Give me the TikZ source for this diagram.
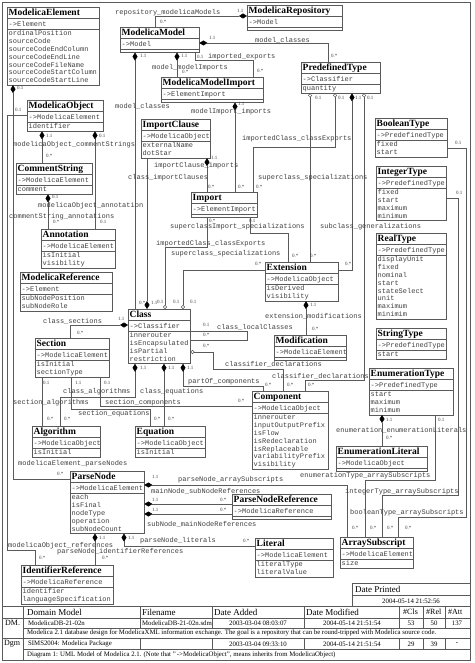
\documentclass[tikz,border=0pt]{standalone}
\usepackage{fontspec}
\setmainfont{Liberation Serif}
\setmonofont{Liberation Mono}
\usetikzlibrary{arrows.meta, shapes.multipart}

\definecolor{linec}{HTML}{5A5A5A}
\definecolor{attrc}{HTML}{404040}

% struts for the three compartments
\newcommand\nstrut{\rule[-2.5pt]{0pt}{10pt}}
\newcommand\sstrut{\rule[-2.2pt]{0pt}{9pt}}
\newcommand\astrut{\rule[-1.6pt]{0pt}{7.8pt}}
\newcommand\cname[1]{\nstrut{\fontsize{9.5}{10}\selectfont\rmfamily\bfseries\color{black}#1}}
\newcommand\noattr{\rule{0pt}{2pt}}

\tikzset{
  cls/.style={draw=linec, rectangle split, rectangle split parts=3, anchor=north west,
    inner xsep=1.5pt, inner ysep=0.5pt, align=left, text=attrc,
    font=\fontsize{7}{7.8}\selectfont\ttfamily},
  assoc/.style={draw=linec, line width=0.5pt},
  comp/.style={assoc, {Diamond[length=8pt,width=5pt,color=black]}-},
  circ/.style={assoc, {Circle[open,length=4pt]}-},
  lbl/.style={anchor=west, inner sep=0pt, text=attrc, font=\fontsize{7}{7}\selectfont\ttfamily},
  mult/.style={anchor=west, inner sep=0pt, text=attrc, font=\fontsize{5}{5}\selectfont},
  th/.style={anchor=west, inner sep=0pt, font=\fontsize{9}{9}\selectfont},
  td/.style={anchor=west, inner sep=0pt, font=\fontsize{6.8}{7}\selectfont},
}

\begin{document}
\lineskiplimit=-10pt
\lineskip=0pt
\begin{tikzpicture}[x=1pt, y=-1pt]
\useasboundingbox (0,0) rectangle (474,663);

% classes
\node[cls, text width=89pt] (elem) at (7,7) {\cname{ModelicaElement}
  \nodepart{two}\sstrut->Element
  \nodepart{three}\astrut ordinalPosition\\ sourceCode\\ sourceCodeEndColumn\\ sourceCodeEndLine\\
  sourceCodeFileName\\ sourceCodeStartColumn\\ \astrut sourceCodeStartLine};
\node[cls, text width=92pt] (repo) at (247,5) {\cname{ModelicaRepository}
  \nodepart{two}\sstrut->Model \nodepart{three}\noattr};
\node[cls, text width=76pt] (model) at (120,27) {\cname{ModelicaModel}
  \nodepart{two}\sstrut->Model \nodepart{three}\noattr};
\node[cls, text width=99pt] (mimport) at (161,77) {\cname{ModelicaModelImport}
  \nodepart{two}\sstrut->ElementImport \nodepart{three}\noattr};
\node[cls, text width=76pt] (predef) at (301,62) {\cname{PredefinedType}
  \nodepart{two}\sstrut->Classifier \nodepart{three}\astrut quantity};
\node[cls, text width=73pt] (mobj) at (27,100) {\cname{ModelicaObject}
  \nodepart{two}\sstrut->ModelicaElement \nodepart{three}\astrut identifier};
\node[cls, text width=66pt] (iclause) at (141,119) {\cname{ImportClause}
  \nodepart{two}\sstrut->ModelicaObject \nodepart{three}\astrut externalName\\ \astrut dotStar};
\node[cls, text width=73pt] (cstring) at (16,163) {\cname{CommentString}
  \nodepart{two}\sstrut->ModelicaElement \nodepart{three}\astrut comment};
\node[cls, text width=69pt] (booltype) at (375,118) {\cname{BooleanType}
  \nodepart{two}\sstrut->PredefinedType \nodepart{three}\astrut fixed\\ \astrut start};
\node[cls, text width=67pt] (inttype) at (376,166) {\cname{IntegerType}
  \nodepart{two}\sstrut->PredefinedType \nodepart{three}\astrut fixed\\ start\\ maximum\\ \astrut minimum};
\node[cls, text width=63pt] (import) at (191,192) {\cname{Import}
  \nodepart{two}\sstrut->ElementImport \nodepart{three}\noattr};
\node[cls, text width=71pt] (annot) at (41,229) {\cname{Annotation}
  \nodepart{two}\sstrut->ModelicaElement \nodepart{three}\astrut isInitial\\ \astrut visibility};
\node[cls, text width=67pt] (realtype) at (376,233) {\cname{RealType}
  \nodepart{two}\sstrut->PredefinedType \nodepart{three}\astrut displayUnit\\ fixed\\ nominal\\ start\\
  stateSelect\\ unit\\ maximum\\ \astrut minimim};
\node[cls, text width=70pt] (ext) at (265,262) {\cname{Extension}
  \nodepart{two}\sstrut->ModelicaObject \nodepart{three}\astrut isDerived\\ \astrut visibility};
\node[cls, text width=89pt] (mref) at (20,272) {\cname{ModelicaReference}
  \nodepart{two}\sstrut->Element \nodepart{three}\astrut subNodePosition\\ \astrut subNodeRole};
\node[cls, text width=59pt] (cls) at (128,309) {\cname{Class}
  \nodepart{two}\sstrut->Classifier \nodepart{three}\astrut innerouter\\ isEncapsulated\\ isPartial\\ \astrut restriction};
\node[cls, text width=67pt] (strtype) at (376,328) {\cname{StringType}
  \nodepart{two}\sstrut->PredefinedType \nodepart{three}\astrut start};
\node[cls, text width=69pt] (modif) at (274,335) {\cname{Modification}
  \nodepart{two}\sstrut->ModelicaElement \nodepart{three}\noattr};
\node[cls, text width=71pt] (sect) at (35,338) {\cname{Section}
  \nodepart{two}\sstrut->ModelicaElement \nodepart{three}\astrut isInitial\\ \astrut sectionType};
\node[cls, text width=81pt] (enumtype) at (369,368) {\cname{EnumerationType}
  \nodepart{two}\sstrut->PredefinedType \nodepart{three}\astrut start\\ maximum\\ \astrut minimum};
\node[cls, text width=73pt] (comp) at (252,391) {\cname{Component}
  \nodepart{two}\sstrut->ModelicaObject \nodepart{three}\astrut innerouter\\ inputOutputPrefix\\ isFlow\\
  isRedeclaration\\ isReplaceable\\ variabilityPrefix\\ \astrut visibility};
\node[cls, text width=65pt] (algo) at (32,426) {\cname{Algorithm}
  \nodepart{two}\sstrut->ModelicaObject \nodepart{three}\astrut isInitial};
\node[cls, text width=67pt] (eqn) at (135,426) {\cname{Equation}
  \nodepart{two}\sstrut->ModelicaObject \nodepart{three}\astrut isInitial};
\node[cls, text width=88pt] (enumlit) at (336,446) {\cname{EnumerationLiteral}
  \nodepart{two}\sstrut->ModelicaObject \nodepart{three}\noattr};
\node[cls, text width=71pt] (pnode) at (70,471) {\cname{ParseNode}
  \nodepart{two}\sstrut->ModelicaElement \nodepart{three}\astrut each\\ isFinal\\ nodeType\\ operation\\ \astrut subNodeCount};
\node[cls, text width=96pt] (pnref) at (232,494) {\cname{ParseNodeReference}
  \nodepart{two}\sstrut->ModelicaReference \nodepart{three}\noattr};
\node[cls, text width=70pt] (arrsub) at (340,537) {\cname{ArraySubscript}
  \nodepart{two}\sstrut->ModelicaElement \nodepart{three}\astrut size};
\node[cls, text width=75pt] (literal) at (255,538) {\cname{Literal}
  \nodepart{two}\sstrut->ModelicaElement \nodepart{three}\astrut literalType\\ \astrut literalValue};
\node[cls, text width=89pt] (idref) at (21,565) {\cname{IdentifierReference}
  \nodepart{two}\sstrut->ModelicaReference \nodepart{three}\astrut identifier\\ \astrut languageSpecification};

% associations
\draw[comp] (repo.west |- 0,16) -- (155,16) -- (model.north -| 155,0);
\draw[comp] (model.east |- 0,43) -- (328,43) -- (predef.north -| 328,0);
\draw[assoc] (model.south -| 195,0) -- (195,60) -- (253,60) -- (mimport.north -| 253,0);
\draw[comp] (model.south -| 177,0) -- (mimport.north -| 177,0);
\draw[comp] (model.south -| 135,0) -- (cls.north -| 135,0);
\draw[comp] (mimport.south -| 235,0) -- (import.north -| 235,0);
\draw[comp] (cls.north -| 147,0) -- (iclause.south -| 147,0);
\draw[comp] (iclause.south -| 207,0) -- (import.north -| 207,0);
\draw[circ] (predef.south -| 335,0) -- (335,147) -- (253,147) -- (import.north -| 253,0);
\draw[circ] (predef.south -| 310,0) -- (ext.north -| 310,0);
\draw[comp] (predef.south -| 352,0) -- (352,270) -- (ext.east |- 0,270);
\draw[circ] (predef.south -| 364,0) -- (364,380) -- (305,380) -- (comp.north -| 305,0);
\draw[assoc] (import.south -| 250,0) -- (250,233) -- (288,233) -- (ext.north -| 288,0);
\draw[circ] (cls.north -| 165,0) -- (165,247) -- (207,247) -- (import.south -| 207,0);
\draw[circ] (cls.north -| 183,0) -- (183,270) -- (ext.west |- 0,270);
\draw[comp] (ext.south -| 306,0) -- (modif.north -| 306,0);
\draw[comp] (cls.west |- 0,325) -- (70,325) -- (sect.north -| 70,0);
\draw[assoc] (cls.east |- 0,331) -- (247,331) -- (247,340) -- (cls.east |- 0,340);
\draw[circ] (cls.east |- 0,352) -- (213,352) -- (213,369) -- (283,369) -- (comp.north -| 283,0);
\draw[comp] (cls.south -| 183,0) -- (183,386) -- (263,386) -- (comp.north -| 263,0);
\draw[comp] (cls.south -| 164,0) -- (eqn.north -| 164,0);
\draw[comp] (cls.south -| 135,0) -- (135,397) -- (60,397) -- (algo.north -| 60,0);
\draw[assoc] (sect.south -| 42,0) -- (algo.north -| 42,0);
\draw[assoc] (sect.south -| 71,0) -- (71,409) -- (150,409) -- (eqn.north -| 150,0);
\draw[assoc] (sect.south -| 100,0) -- (100,406) -- (comp.west |- 0,406);
\draw[comp] (mobj.south -| 42,0) -- (cstring.north -| 42,0);
\draw[comp] (mobj.south -| 95,0) -- (annot.north -| 95,0);
\draw[comp] (cstring.south -| 48,0) -- (annot.north -| 48,0);
\draw[comp] (elem.south -| 13,0) -- (13,479) -- (pnode.west |- 0,479);
\draw[assoc] (mobj.west |- 0,115) -- (7,115) -- (7,550) -- (35,550) -- (idref.north -| 35,0);
\draw[comp] (pnode.south -| 95,0) -- (idref.north -| 95,0);
\draw[comp] (pnode.south -| 124,0) -- (124,546) -- (literal.west |- 0,546);
\draw[comp] (pnode.east |- 0,504) -- (pnref.west |- 0,504);
\draw[comp] (pnode.east |- 0,514) -- (pnref.west |- 0,514);
\draw[comp] (pnode.east |- 0,485) -- (347,485) -- (arrsub.north -| 347,0);
\draw[comp] (enumtype.south -| 382,0) -- (enumlit.north -| 382,0);
\draw[assoc] (enumtype.south -| 435,0) -- (435,480) -- (365,480) -- (arrsub.north -| 365,0);
\draw[assoc] (inttype.east |- 0,198) -- (458,198) -- (458,495) -- (382,495) -- (arrsub.north -| 382,0);
\draw[assoc] (booltype.east |- 0,148) -- (466,148) -- (466,517) -- (398,517) -- (arrsub.north -| 398,0);

% association names
\node[lbl] (n-repo) at (115,13) {repository\_modelicaModels};
\node[lbl] (n-mcls2) at (255,40) {model\_classes};
\node[lbl] (n-iexp) at (208,57) {imported\_exports};
\node[lbl] (n-mimp) at (152,68) {model\_modelImports};
\node[lbl] (n-mcls) at (115,106) {model\_classes};
\node[lbl] (n-miimp) at (191,112) {modelImport\_imports};
\node[lbl] (n-ocs) at (13,145) {modelicaObject\_commentStrings};
\node[lbl] (n-icexp) at (242,139) {importedClass\_classExports};
\node[lbl] (n-icimp) at (154,166) {importClause\_imports};
\node[lbl] (n-cic) at (128,178) {class\_importClauses};
\node[lbl] (n-sspec) at (258,178) {superclass\_specializations};
\node[lbl] (n-oann) at (38,206) {modelicaObject\_annotation};
\node[lbl] (n-csann) at (9,217) {commentString\_annotations};
\node[lbl] (n-sispec) at (170,227) {superclassImport\_specializations};
\node[lbl] (n-sgen) at (320,227) {subclass\_generalizations};
\node[lbl] (n-icexp2) at (156,244) {importedClass\_classExports};
\node[lbl] (n-sspec2) at (171,254) {superclass\_specializations};
\node[lbl] (n-emod) at (265,316) {extension\_modifications};
\node[lbl] (n-csec) at (43,321) {class\_sections};
\node[lbl] (n-cloc) at (217,327) {class\_localClasses};
\node[lbl] (n-cdecl) at (225,364) {classifier\_declarations};
\node[lbl] (n-cdecl2) at (272,376) {classifier\_declarations};
\node[lbl] (n-pcomp) at (188,382) {partOf\_components};
\node[lbl] (n-calg) at (63,392) {class\_algorithms};
\node[lbl] (n-ceq) at (140,392) {class\_equations};
\node[lbl] (n-salg) at (13,403) {section\_algorithms};
\node[lbl] (n-scomp) at (105,403) {section\_components};
\node[lbl] (n-seq) at (78,414) {section\_equations};
\node[lbl] (n-elit) at (336,430) {enumeration\_enumerationLiterals};
\node[lbl] (n-epn) at (18,464) {modelicaElement\_parseNodes};
\node[lbl] (n-easub) at (300,476) {enumerationType\_arraySubscripts};
\node[lbl] (n-pasub) at (178,480) {parseNode\_arraySubscripts};
\node[lbl] (n-msub) at (151,491) {mainNode\_subNodeReferences};
\node[lbl] (n-iasub) at (345,492) {integerType\_arraySubscripts};
\node[lbl] (n-basub) at (350,513) {booleanType\_arraySubscripts};
\node[lbl] (n-smain) at (147,524) {subNode\_mainNodeReferences};
\node[lbl] (n-plit) at (140,541) {parseNode\_literals};
\node[lbl] (n-oref) at (8,546) {modelicaObject\_references};
\node[lbl] (n-pidref) at (57,552) {parseNode\_identifierReferences};

% multiplicities
\foreach \x/\y/\t [count=\i] in {237/11/1.1, 160/22/0.*, 209/38/1.1, 331/56/0.*, 197/57/0.1,
    257/71/0.*, 181/56/1.1, 182/72/0.*, 140/56/1.1, 238/104/1.1, 17/88/0.1, 15/110/0.1,
    46/136/1.1, 99/136/0.1, 46/156/0.*, 211/158/1.1, 208/187/0.*, 238/187/0.*,
    256/187/0.*, 315/98/0.1, 338/98/0.1, 355/98/1.1, 367/98/0.1, 455/143/0.1, 456/193/0.1,
    52/197/0.1, 53/222/0.*, 100/222/0.1, 209/221/0.*, 249/221/0.1, 292/256/0.*, 310/256/0.*,
    255/264/0.*, 345/264/0.*, 139/303/0.*, 151/303/1.1, 157/302/0.1, 173/302/0.1, 190/302/0.1,
    310/305/1.1, 312/329/0.*, 118/319/1.1, 77/333/0.*, 203/325/0.1, 203/335/0.*, 203/346/0.*,
    140/368/1.1, 168/368/1.1, 187/368/1.1, 265/385/0.*, 287/385/0.*, 308/385/0.*,
    43/383/0.1, 75/383/1.1, 104/383/0.1, 238/401/0.*, 47/419/0.*, 64/419/0.*, 154/419/0.*,
    168/419/0.*, 386/420/1.1, 438/420/0.1, 386/438/0.*, 57/474/0.*, 152/477/1.1,
    152/500/1.1, 220/500/0.*, 152/510/1.1, 220/510/0.*, 352/528/0.*, 370/528/0.*,
    387/528/0.*, 405/528/0.*, 99/538/1.1, 128/538/1.1, 243/541/0.*, 39/558/0.*, 102/558/0.*}
  \node[mult] (m\i) at (\x,\y) {\t};

% frame and table
\draw[linec] (2,2) rectangle (470,660);
\draw[linec] (352,583) rectangle (470,606);
\draw[linec] (352,595) -- (470,595);
\foreach \y in {606,618,638} \draw[linec] (2,\y) -- (470,\y);
\foreach \y in {628,649} \draw[linec] (23,\y) -- (470,\y);
\draw[linec] (23,606) -- (23,660);
\foreach \x in {140,212,304,399,423,445} {
  \draw[linec] (\x,606) -- (\x,628);
  \draw[linec] (\x,638) -- (\x,649);
}
\node[th] (t-dp) at (355,589) {Date Printed};
\node[td, anchor=center] (t-dpv) at (411,601) {2004-05-14 21:52:56};
\node[th] (t-h1) at (27,612) {Domain Model};
\node[th] (t-h2) at (142,612) {Filename};
\node[th] (t-h3) at (214,612) {Date Added};
\node[th] (t-h4) at (306,612) {Date Modified};
\node[th, font=\fontsize{8}{8}\selectfont] (t-h5) at (403,612) {\#Cls};
\node[th, font=\fontsize{8}{8}\selectfont] (t-h6) at (426,612) {\#Rel};
\node[th, font=\fontsize{8}{8}\selectfont] (t-h7) at (448,612) {\#Att};
\node[th, font=\fontsize{8}{8}\selectfont] (t-dm) at (5,623) {DM.};
\node[th, font=\fontsize{8}{8}\selectfont] (t-dgm) at (4,644) {Dgm};
\node[td] (t-r1) at (28,623) {ModelicaDB-21-02n};
\node[td] (t-r2) at (142,623) {ModelicaDB-21-02n.sdm};
\node[td, anchor=center] (t-r3) at (258,623) {2003-03-04 08:03:07};
\node[td, anchor=center] (t-r4) at (352,623) {2004-05-14 21:51:54};
\node[td, anchor=center] (t-r5) at (411,623) {53};
\node[td, anchor=center] (t-r6) at (434,623) {50};
\node[td, anchor=center] (t-r7) at (457,623) {137};
\node[td] (t-desc) at (27,633) {Modelica 2.1 database design for ModelicaXML information exchange. The goal is a repository that can be round-tripped with Modelica source code.};
\node[td] (t-g1) at (28,644) {SIMS2004: Modelica Package};
\node[td, anchor=center] (t-g3) at (258,644) {2003-03-04 09:33:10};
\node[td, anchor=center] (t-g4) at (352,644) {2004-05-14 21:51:54};
\node[td, anchor=center] (t-g5) at (411,644) {29};
\node[td, anchor=center] (t-g6) at (434,644) {39};
\node[td, anchor=center] (t-g7) at (457,644) {-};
\node[td] (t-note) at (27,655) {Diagram 1: UML Model of Modelica 2.1. (Note that "\,->ModelicaObject", means inherits from ModelicaObject)};
\end{tikzpicture}
\end{document}
